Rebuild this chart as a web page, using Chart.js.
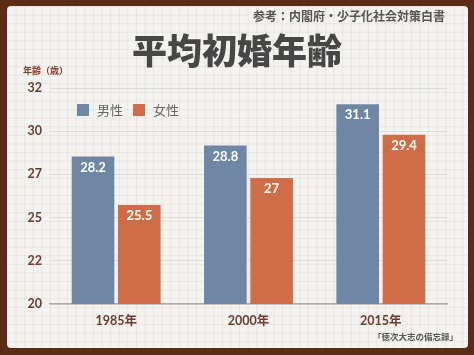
<!DOCTYPE html>
<html><head><meta charset="utf-8">
<script src="https://cdn.jsdelivr.net/npm/chart.js@4"></script>
<style>
html,body{margin:0;padding:0;width:474px;height:355px;overflow:hidden;background:#5b2c16;}
#panel{position:absolute;left:7px;top:6px;width:461px;height:342px;border-radius:4px;
background-color:#f4f3ef;
background-image:linear-gradient(rgba(0,0,0,0.05) 1px,transparent 1px),linear-gradient(90deg,rgba(0,0,0,0.05) 1px,transparent 1px);
background-size:8.6px 8.6px;}
#wrap{position:absolute;left:0;top:0;width:474px;height:355px;}
</style></head>
<body><div id="panel"></div><div id="wrap"><canvas id="c" width="474" height="355"></canvas></div>
<script>
const categories = ['1985年','2000年','2015年'];
const maleValues = [28.2, 28.8, 31.1];
const femaleValues = [25.5, 27, 29.4];
const seriesNames = ['男性','女性'];
const tickValues = [20, 22.4, 24.8, 27.2, 29.6, 32];
const tickLabels = ['20','22','25','27','30','32'];
const titleText = '平均初婚年齢';
const sourceText = '参考：内閣府・少子化社会対策白書';
const yAxisTitle = '年齢（歳）';
const footerText = '「徳次大志の備忘録」';

const FONT = "Lato, 'Noto Sans CJK JP', sans-serif";
const CJK = "'Noto Sans CJK JP', sans-serif";

const extras = {
  id:'extras',
  afterDraw(chart){
    const ctx = chart.ctx;
    ctx.save();
    ctx.textBaseline='middle';
    ctx.fillStyle='#474747'; ctx.textAlign='center';
    ctx.font="900 35px "+CJK;
    ctx.fillText(titleText, 237, 51);
    ctx.fillStyle='#555'; ctx.textAlign='right';
    ctx.font="bold 12px "+CJK;
    ctx.fillText(sourceText, 445, 16);
    ctx.fillStyle='#8a3b2a'; ctx.textAlign='left';
    ctx.font="bold 9px "+CJK;
    ctx.fillText(yAxisTitle, 23, 71);
    ctx.fillStyle='#555'; ctx.textAlign='right';
    ctx.font="bold 8.5px "+CJK;
    ctx.fillText(footerText, 458, 337);
    const ds = chart.data.datasets;
    let x = 77;
    ds.forEach((d,i)=>{
      ctx.fillStyle=d.backgroundColor;
      ctx.fillRect(x,104,12,12);
      ctx.fillStyle='#666'; ctx.textAlign='left';
      ctx.font="13px "+CJK;
      ctx.fillText(d.label, x+20, 110.5);
      x += 56;
    });
    ctx.fillStyle='#fff'; ctx.textAlign='center';
    ctx.font="bold 13px "+FONT;
    ds.forEach((d,i)=>{
      chart.getDatasetMeta(i).data.forEach((bar,j)=>{
        ctx.fillText(String(d.data[j]), bar.x, bar.y+11);
      });
    });
    ctx.restore();
  }
};

new Chart(document.getElementById('c'),{
  type:'bar',
  data:{labels:categories,datasets:[
    {label:seriesNames[0],data:maleValues,backgroundColor:'#6f87a5'},
    {label:seriesNames[1],data:femaleValues,backgroundColor:'#cf6d48'}
  ]},
  options:{
    responsive:false,animation:false,
    layout:{padding:{left:0,right:27,top:88,bottom:0}},
    plugins:{legend:{display:false},tooltip:{enabled:false},title:{display:false}},
    datasets:{bar:{categoryPercentage:0.7,barPercentage:0.92}},
    scales:{
      x:{grid:{display:false},border:{color:'#aaa',width:1.5},
         ticks:{color:'#6e3b30',font:{family:FONT,weight:'bold',size:12.5},padding:1},
         afterFit(s){s.height=51;}},
      y:{min:20,max:32,
         afterBuildTicks(s){s.ticks=tickValues.map(v=>({value:v}));},
         grid:{color:'#dcdcdc',drawTicks:false},border:{display:false},
         ticks:{color:'#6e3b30',font:{family:FONT,weight:'bold',size:12.5},padding:8,
           callback:(v,i)=>tickLabels[i]},
         afterFit(s){s.width=50;}}
    }
  },
  plugins:[extras]
});
</script></body></html>
